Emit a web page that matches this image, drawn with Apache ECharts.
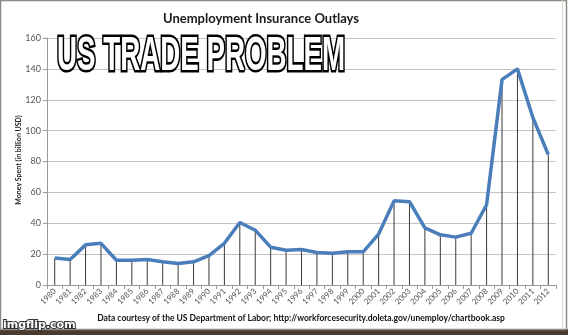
<!DOCTYPE html>
<html><head><meta charset="utf-8">
<script src="https://cdn.jsdelivr.net/npm/echarts@6/dist/echarts.min.js"></script>
<style>html,body{margin:0;padding:0;background:#fff}#c{width:568px;height:335px}</style>
</head><body><div id="c"></div>
<script>
const years = ['1980','1981','1982','1983','1984','1985','1986','1987','1988','1989','1990','1991','1992','1993','1994','1995','1996','1997','1998','1999','2000','2001','2002','2003','2004','2005','2006','2007','2008','2009','2010','2011','2012'];
const outlays = [17.5,16.5,26,27,16,16,16.5,15,14,15,19,27,40.5,35.5,24.5,22.5,23,21,20.5,21.5,21.5,33,54.5,54,37,32.5,31,33.5,52,133,140,108.5,84.5];
const yTicks = [0,20,40,60,80,100,120,140,160];
const titleText = 'Unemployment Insurance Outlays';
const yName = 'Money Spent (in billion USD)';
const sourceText = 'Data courtesy of the US Department of Labor; http://workforcesecurity.doleta.gov/unemploy/chartbook.asp';
const memeText = 'US TRADE PROBLEM';

const chart = echarts.init(document.getElementById('c'), null, {renderer:'canvas'});
chart.setOption({
  animation:false,
  backgroundColor:'#fff',
  grid:{left:47,right:12,top:38,bottom:50,containLabel:false},
  xAxis:{type:'category',data:years,boundaryGap:true,
    axisLine:{lineStyle:{color:'#999',width:1}},
    axisTick:{show:true,alignWithLabel:false,length:4,lineStyle:{color:'#999'}},
    axisLabel:{rotate:45,fontSize:8,color:'#555',fontFamily:'Lato',margin:5,interval:0}},
  yAxis:{type:'value',min:yTicks[0],max:yTicks[yTicks.length-1],interval:20,
    axisLine:{show:true,lineStyle:{color:'#999'}},
    axisTick:{show:true,length:4,lineStyle:{color:'#999'}},
    splitLine:{lineStyle:{color:'#c4c4c4',width:1}},
    axisLabel:{fontSize:9,color:'#555',fontFamily:'Lato',margin:6}},
  series:[
    {type:'bar',data:outlays,barWidth:1,itemStyle:{color:'#3a3a3a'},silent:true,z:1},
    {type:'line',data:outlays,symbol:'none',lineStyle:{color:'#4a7ebb',width:3.5},z:3}
  ],
  graphic:[
    {type:'text',x:261,y:19,style:{text:titleText,font:'bold 13px Lato',fill:'#1a1a1a',align:'center',verticalAlign:'middle'}},
    {type:'text',x:19,y:160,rotation:Math.PI/2,style:{text:yName,font:'bold 7px Lato',fill:'#222',align:'center',verticalAlign:'middle'}},
    {type:'text',x:301,y:318,style:{text:sourceText,font:'bold 8.5px Lato',fill:'#111',align:'center',verticalAlign:'middle'}},
    {type:'text',x:57,y:57,scaleX:0.59,scaleY:1.03,z:100,style:{text:memeText,font:'bold 47px "Liberation Sans"',fill:'#fff',stroke:'#000',lineWidth:5,verticalAlign:'middle',align:'left',shadowBlur:4,shadowColor:'rgba(0,0,0,0.6)'}},
    {type:'rect',shape:{x:0,y:329,width:568,height:6},style:{fill:'#4a3a2e'},z:50},
    {type:'rect',shape:{x:0.5,y:0.5,width:566,height:329},style:{fill:null,stroke:'#8f8a86',lineWidth:1.5},z:50},
    {type:'line',shape:{x1:562.5,y1:0,x2:562.5,y2:329},style:{stroke:'#d8d4d0',lineWidth:1},z:50},
    {type:'text',x:3,y:325,z:100,style:{text:'imgflip.com',font:'bold 11px "DejaVu Sans"',fill:'#fff',stroke:'#333',lineWidth:2,verticalAlign:'middle'}}
  ]
});
</script></body></html>
